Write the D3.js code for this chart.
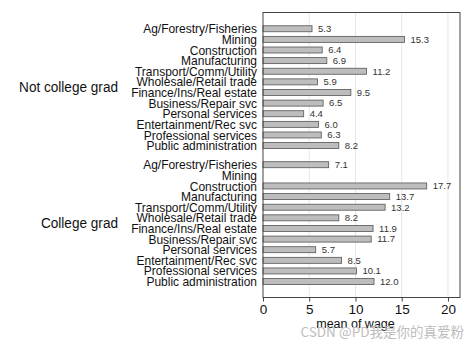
<!DOCTYPE html>
<html>
<head>
<meta charset="utf-8">
<script src="https://cdn.jsdelivr.net/npm/d3@7"></script>
<style>
  body { margin: 0; background: #fff; }
  svg { display: block; font-family: "Liberation Sans", Arial, sans-serif; }
</style>
</head>
<body>
<svg id="chart"></svg>
<script>
const WIDTH = 474;
const HEIGHT = 345;

// Industries listed in the same order under each group
const industries = [
    "Ag/Forestry/Fisheries", "Mining", "Construction", "Manufacturing",
    "Transport/Comm/Utility", "Wholesale/Retail trade", "Finance/Ins/Real estate",
    "Business/Repair svc", "Personal services", "Entertainment/Rec svc",
    "Professional services", "Public administration"
];
const groups = ["Not college grad", "College grad"];

// Mean wage per industry (null = no observations)
const wageNotCollege = [5.3, 15.3, 6.4, 6.9, 11.2, 5.9, 9.5, 6.5, 4.4, 6.0, 6.3, 8.2];
const wageCollege = [7.1, null, 17.7, 13.7, 13.2, 8.2, 11.9, 11.7, 5.7, 8.5, 10.1, 12.0];
const xTicks = [0, 5, 10, 15, 20];

const plot = { left: 263, right: 460, top: 12.5, bottom: 297.5 };

const rows = [];
groups.forEach((g, gi) => {
    const vals = gi === 0 ? wageNotCollege : wageCollege;
    industries.forEach((ind, i) => {
        rows.push({ group: g, gi, industry: ind, i, value: vals[i] });
    });
});

// Each group gets 12 slots plus a small gap between groups
const GROUP_STEP = 12.8;
const slotIndex = d => d.gi * GROUP_STEP + d.i;

const x = d3.scaleLinear().domain([0, 21.3]).range([plot.left, plot.right]);
const y = d3.scaleLinear().domain([-1.53, 25.3]).range([plot.top, plot.bottom]);

const svg = d3.select("#chart")
    .attr("width", WIDTH)
    .attr("height", HEIGHT);

// gridlines
svg.append("g")
    .selectAll("line")
    .data(xTicks.filter(t => t > 0))
    .join("line")
    .attr("x1", d => x(d)).attr("x2", d => x(d))
    .attr("y1", plot.top).attr("y2", plot.bottom)
    .attr("stroke", "#e6e6e6")
    .attr("stroke-width", 1);

// bars
const barH = 6;
svg.append("g")
    .selectAll("rect")
    .data(rows.filter(d => d.value != null))
    .join("rect")
    .attr("x", x(0))
    .attr("y", d => y(slotIndex(d)) - barH / 2)
    .attr("width", d => x(d.value) - x(0))
    .attr("height", barH)
    .attr("fill", "#bdbdbd")
    .attr("stroke", "#555")
    .attr("stroke-width", 0.8);

// value labels
svg.append("g")
    .selectAll("text")
    .data(rows.filter(d => d.value != null))
    .join("text")
    .attr("x", d => x(d.value) + 6)
    .attr("y", d => y(slotIndex(d)))
    .attr("dy", "0.35em")
    .attr("font-size", 9.5)
    .attr("fill", "#333")
    .text(d => d.value.toFixed(1));

// industry labels, slightly stretched vertically
svg.append("g")
    .selectAll("text")
    .data(rows)
    .join("text")
    .attr("transform", d => `translate(${plot.left - 6},${y(slotIndex(d))}) scale(1,1.08)`)
    .attr("dy", "0.35em")
    .attr("text-anchor", "end")
    .attr("font-size", 12)
    .attr("fill", "#111")
    .text(d => d.industry);

// group labels
svg.append("g")
    .selectAll("text")
    .data(groups)
    .join("text")
    .attr("transform", (g, gi) => `translate(118,${y(gi * GROUP_STEP + 5.5)}) scale(1,1.1)`)
    .attr("dy", "0.35em")
    .attr("text-anchor", "end")
    .attr("font-size", 13.6)
    .attr("fill", "#111")
    .text(d => d);

// frame
svg.append("rect")
    .attr("x", plot.left).attr("y", plot.top)
    .attr("width", plot.right - plot.left)
    .attr("height", plot.bottom - plot.top)
    .attr("fill", "none")
    .attr("stroke", "#444")
    .attr("stroke-width", 1);

// x axis
const xAxis = svg.append("g")
    .attr("transform", `translate(0,${plot.bottom})`)
    .call(d3.axisBottom(x).tickValues(xTicks).tickSize(4).tickPadding(2.5));
xAxis.select(".domain").remove();
xAxis.selectAll("line").attr("stroke", "#444");
xAxis.selectAll("text")
    .attr("font-size", 13.5)
    .attr("font-family", "Liberation Sans, Arial, sans-serif")
    .attr("fill", "#111");

svg.append("text")
    .attr("x", (plot.left + x(20)) / 2)
    .attr("y", 327.5)
    .attr("text-anchor", "middle")
    .attr("font-size", 12.5)
    .attr("fill", "#111")
    .text("mean of wage");

svg.append("text")
    .attr("x", 464)
    .attr("y", 336.5)
    .attr("text-anchor", "end")
    .attr("font-size", 13.5)
    .attr("font-family", "'Noto Sans CJK SC', sans-serif")
    .attr("fill", "#bdbdbd")
    .text("CSDN @PD我是你的真爱粉");
</script>
</body>
</html>
